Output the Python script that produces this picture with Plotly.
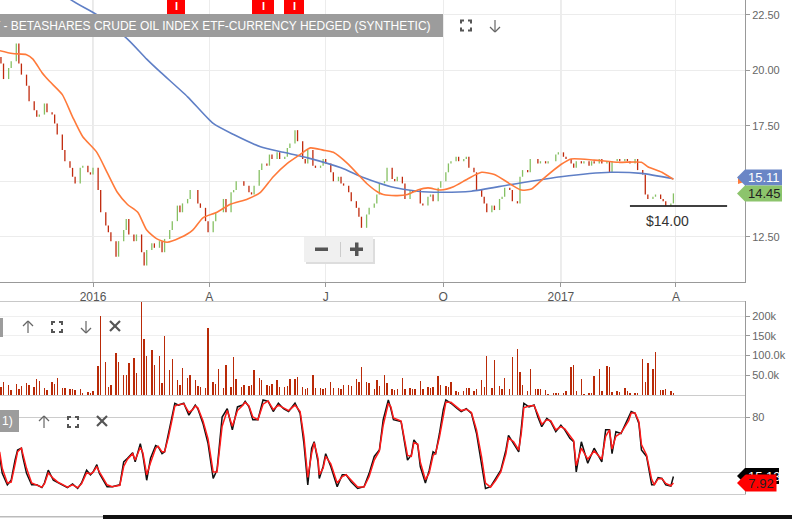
import plotly.graph_objects as go
import pandas as pd

W, H = 792, 519

# ---------------- data ----------------
# closes, one bar every second business day starting 2015-10-19
close = [
    20.6, 20.3, 19.6, 20.1, 20.4, 21.2, 20.3, 19.8, 19.3, 18.6,
    18.2, 17.9, 18.0, 18.5, 18.1, 18.0, 17.6, 17.1, 16.4, 15.9,
    15.6, 15.2, 14.9, 15.6, 15.7, 15.4, 15.3, 15.6, 14.6, 13.6,
    13.0, 12.7, 12.3, 11.6, 12.3, 12.8, 13.3, 12.6, 12.3, 12.6,
    11.8, 11.2, 11.9, 12.2, 12.0, 12.3, 11.8, 12.4, 12.8, 13.2,
    13.9, 13.6, 14.0, 14.2, 14.6, 14.6, 14.0, 13.8, 13.2, 12.7,
    13.2, 13.6, 13.6, 14.2, 13.6, 14.5, 14.6, 15.0, 15.0, 14.8,
    14.5, 14.4, 14.8, 15.5, 15.8, 15.7, 16.2, 16.0, 16.3, 16.0,
    16.1, 16.5, 16.7, 17.3, 16.8, 16.0, 15.8, 16.4, 15.7, 15.6,
    15.7, 16.0, 15.8, 15.4, 15.0, 15.2, 14.9, 14.8, 14.5, 14.1,
    13.8, 13.4, 12.9, 13.5, 13.8, 14.0, 14.4, 14.9, 15.0, 15.6,
    15.1, 15.0, 15.2, 14.9, 14.2, 14.6, 14.5, 14.6, 14.0, 13.9,
    14.3, 14.4, 14.1, 14.7, 15.0, 15.4, 15.8, 15.9, 16.1, 15.9,
    16.0, 16.1, 15.6, 15.4, 14.6, 14.3, 14.0, 13.6, 13.9, 13.7,
    14.2, 14.3, 14.7, 14.6, 14.1, 14.0, 15.2, 15.5, 15.4, 16.0,
    16.0, 15.8, 15.9, 15.8, 15.9, 15.9, 16.2, 16.3, 16.1, 16.0,
    15.8, 15.6, 15.9, 15.8, 15.9, 15.7, 15.9, 15.8, 16.0, 15.8,
    15.9, 15.4, 15.9, 16.0, 15.9, 16.0, 15.9, 15.8, 16.0, 15.5,
    15.3, 14.4, 14.2, 14.3, 14.4, 14.2, 14.1, 13.9, 14.0, 14.45,
]
first_open = 20.9

# volume in thousands, same bars
volume_k = [
    15, 20, 34, 25, 12, 28, 15, 22, 30, 25,
    20, 41, 35, 18, 12, 33, 28, 43, 18, 17,
    14, 16, 13, 15, 4, 8, 5, 10, 73, 201,
    85, 20, 25, 107, 85, 50, 51, 81, 94, 55,
    239, 141, 98, 115, 77, 98, 30, 151, 64, 91,
    38, 26, 68, 42, 51, 38, 22, 21, 17, 171,
    34, 29, 66, 17, 77, 21, 97, 40, 20, 25,
    22, 26, 64, 43, 38, 26, 22, 28, 38, 20,
    21, 23, 40, 40, 45, 20, 15, 18, 51, 17,
    18, 15, 17, 34, 17, 18, 15, 25, 26, 22,
    40, 34, 71, 34, 30, 15, 38, 22, 51, 30,
    14, 12, 14, 43, 15, 18, 14, 16, 35, 15,
    20, 19, 20, 47, 25, 22, 20, 34, 9, 8,
    9, 17, 17, 10, 15, 38, 20, 98, 17, 90,
    22, 15, 43, 14, 97, 117, 58, 25, 9, 66,
    16, 15, 14, 12, 3, 4, 4, 5, 4, 9,
    70, 76, 9, 40, 3, 6, 6, 47, 66, 9,
    73, 71, 8, 9, 8, 18, 9, 5, 5, 6,
    92, 33, 81, 67, 109, 13, 12, 16, 10, 6,
]

ma_fast_dates = [
    '2015-10-20', '2015-10-30', '2015-11-10', '2015-11-15', '2015-11-22', '2015-11-28',
    '2015-12-08', '2015-12-16', '2015-12-24', '2016-01-04', '2016-01-12', '2016-01-20',
    '2016-01-28', '2016-02-05', '2016-02-12', '2016-02-20', '2016-02-28', '2016-03-09',
    '2016-03-19', '2016-03-27', '2016-04-07', '2016-04-17', '2016-05-01', '2016-05-11',
    '2016-05-21', '2016-06-01', '2016-06-11', '2016-06-19', '2016-06-29', '2016-07-07',
    '2016-07-18', '2016-07-28', '2016-08-03', '2016-08-11', '2016-08-15', '2016-08-26',
    '2016-09-03', '2016-09-11', '2016-09-19', '2016-09-29', '2016-10-09', '2016-10-20',
    '2016-10-31', '2016-11-10', '2016-11-23', '2016-12-01', '2016-12-09', '2016-12-19',
    '2017-01-01', '2017-01-09', '2017-01-27', '2017-02-15', '2017-03-05', '2017-03-10',
    '2017-03-21', '2017-03-30',
]
ma_fast = [
    20.88, 20.75, 20.7, 20.5, 19.9, 19.5,
    18.9, 17.9, 17.0, 16.3, 15.4, 14.5,
    13.95, 13.6, 12.8, 12.4, 12.25, 12.45,
    12.8, 13.35, 13.6, 13.95, 14.2, 14.5,
    15.2, 15.8, 16.2, 16.5, 16.4, 16.3,
    15.8, 15.2, 14.85, 14.5, 14.4, 14.35,
    14.4, 14.6, 14.7, 14.6, 14.75, 15.1,
    15.4, 15.3, 14.85, 14.6, 14.65, 15.15,
    15.75, 16.0, 15.95, 15.85, 15.85, 15.65,
    15.4, 15.08,
]

ma_slow_dates = [
    '2015-12-02', '2015-12-14', '2016-01-04', '2016-01-28', '2016-02-12', '2016-02-23',
    '2016-03-15', '2016-04-04', '2016-04-20', '2016-05-11', '2016-05-29', '2016-06-17',
    '2016-07-13', '2016-07-31', '2016-08-21', '2016-09-11', '2016-09-29', '2016-10-23',
    '2016-11-23', '2017-01-01', '2017-02-09', '2017-03-05', '2017-03-30',
]
ma_slow = [
    24.0, 23.2, 22.5, 21.4, 20.5, 19.9,
    18.8, 17.6, 17.1, 16.55, 16.3, 16.05,
    15.6, 15.15, 14.75, 14.55, 14.5, 14.55,
    14.85, 15.2, 15.4, 15.35, 15.11,
]

# stochastic: days after 2016-01-01, %K (black) and %D (red)
stoch_day = [
    -73, -71, -67, -64, -61, -59, -56, -55, -52, -48, -44, -40, -38, -35, -31, -27, -24, -20,
    -16, -12, -9, -5, -2, 0, 3, 5, 11, 15, 21, 24, 27, 31, 33, 37, 39, 42, 45, 49, 51, 54,
    56, 59, 62, 64, 67, 71, 75, 78, 80, 82, 86, 90, 94, 97, 101, 105, 109, 113, 117, 119,
    122, 125, 129, 133, 137, 141, 145, 149, 153, 158, 162, 165, 168, 171, 173, 176, 177, 180,
    182, 186, 191, 195, 198, 202, 207, 212, 216, 220, 224, 227, 231, 233, 235, 241, 243, 246,
    249, 251, 254, 256, 260, 263, 266, 268, 271, 274, 276, 280, 285, 288, 292, 296, 300, 304,
    307, 311, 315, 319, 323, 325, 329, 333, 335, 337, 341, 345, 348, 351, 355, 358, 362, 366,
    369, 373, 376, 378, 382, 387, 392, 398, 401, 404, 406, 409, 413, 419, 421, 424, 427, 429,
    433, 437, 439, 442, 445, 448, 452, 454,
]
stoch_k = [
    37, 18.5, 6, 11, 33, 44, 46, 37, 18.5, 6, 6, 3, 8, 22, 11, 8, 6, 3,
    7, 2, 8, 22, 17, 20, 28, 18.5, 4, 4, 6, 31, 35, 41, 31, 51, 38.5, 11, 35, 49, 47.6, 40,
    42, 62, 82, 95, 93, 95, 82, 89, 93, 89, 73, 51, 13, 22, 80, 89, 66, 91, 93, 97,
    91, 77, 77, 98.5, 97, 86, 95, 89, 86, 95, 84, 51, 6, 46, 53, 31, 13, 26,
    40, 26, 4, 17, 17, 9, 2, 4, 18.5, 37, 44, 77, 98.5, 89, 77, 75, 58.5, 33,
    38.5, 55, 49.5, 26, 8, 22, 42, 40, 62, 88, 98.5, 95, 89, 86, 89, 84, 62, 29.5,
    2, 4, 13, 22, 44, 60, 51, 42, 67.6, 95, 91, 93, 80, 69.5, 78.5, 75, 64, 71,
    66, 56.7, 53, 20, 53, 29.5, 46, 31, 66, 66, 40, 64, 62, 80, 86, 84, 73, 44,
    37, 6, 6, 14, 13, 6, 4.7, 15.13,
]
stoch_d = [
    42, 24, 8, 9, 28, 42, 46, 40, 24, 8, 6, 3.5, 7, 19, 13, 8.5, 6.5, 3.5,
    6, 3, 7, 19, 18, 19.5, 26, 20, 6, 4, 5.5, 26, 34, 40, 33, 47, 41, 17, 30, 46, 48, 42,
    42, 58, 78, 92, 93.5, 94.5, 85, 88, 92, 90, 76, 56, 20, 20, 70, 87, 70, 87, 92.5, 96,
    92, 80, 77, 94, 97.5, 88, 93, 90, 87, 93, 86, 58, 14, 40, 52, 35, 17, 24,
    37, 29, 8, 15, 17, 11, 3.5, 3.5, 15, 33, 43, 71, 95, 91, 79, 75.5, 62, 38,
    37, 52, 50.5, 31, 11.5, 19, 38, 40.5, 58, 83, 96, 96, 90, 87, 88.5, 85, 66, 36,
    8, 3.5, 11, 20, 40, 57, 53, 44, 62, 90, 92, 92.5, 83, 72, 77, 76, 66, 69.5,
    67, 59, 54, 27, 46, 34, 43, 34, 59, 66, 45, 59, 62.5, 76, 84.5, 84.5, 75, 50,
    38.5, 12, 6, 12.5, 13, 7.5, 5, 7.92,
]

x_tick_dates = ['2016-01-01', '2016-04-01', '2016-07-01', '2016-10-01', '2017-01-01', '2017-04-01']
x_tick_text = ['2016', 'A', 'J', 'O', '2017', 'A']
price_ticks = [12.5, 15, 17.5, 20, 22.5]
price_tick_text = ['12.50', '', '17.50', '20.00', '22.50']
vol_ticks = [50000, 100000, 150000, 200000]
vol_tick_text = ['50.0k', '100.0k', '150k', '200k']
stoch_ticks = [20, 80]
stoch_tick_text = ['', '80']

title_text = 'T - BETASHARES CRUDE OIL INDEX ETF-CURRENCY HEDGED (SYNTHETIC)'
last_price_labels = [('15.11', '#6a86c6', 'white'), ('14.45', '#8cc46c', '#222')]
support_value = 13.88
support_text = '$14.00'
support_dates = ['2017-02-24', '2017-05-11']

# ---------------- derived ----------------
bar_dates = pd.bdate_range('2015-10-19', periods=2 * len(close))[::2]
opens = [first_open] + close[:-1]
highs = [max(o, c) for o, c in zip(opens, close)]
lows = [min(o, c) for o, c in zip(opens, close)]
stoch_dates = pd.Timestamp('2016-01-01') + pd.to_timedelta(stoch_day, unit='D')

FONT = 'Liberation Sans, Arial, sans-serif'
GREEN, RED = '#86c063', '#c0290c'

fig = go.Figure()
fig.add_trace(go.Ohlc(
    x=bar_dates, open=opens, high=highs, low=lows, close=close,
    increasing=dict(line=dict(color=GREEN, width=1.3)),
    decreasing=dict(line=dict(color=RED, width=1.3)),
    tickwidth=0, xaxis='x', yaxis='y', hoverinfo='skip'))
fig.add_trace(go.Scatter(x=ma_slow_dates, y=ma_slow, mode='lines', line=dict(color='#5f7fc6', width=1.6, shape='spline', smoothing=0.6),
                         xaxis='x', yaxis='y', hoverinfo='skip'))
fig.add_trace(go.Scatter(x=ma_fast_dates, y=ma_fast, mode='lines', line=dict(color='#ff7a3a', width=1.6, shape='spline', smoothing=0.6),
                         xaxis='x', yaxis='y', hoverinfo='skip'))
fig.add_trace(go.Scatter(x=support_dates, y=[support_value, support_value], mode='lines',
                         line=dict(color='black', width=1.5), xaxis='x', yaxis='y', hoverinfo='skip'))
fig.add_trace(go.Bar(x=bar_dates, y=[v * 1000 for v in volume_k], marker=dict(color='#b92a08', line=dict(width=0)),
                     width=1.1 * 86400000, xaxis='x2', yaxis='y2', hoverinfo='skip'))
fig.add_trace(go.Scatter(x=stoch_dates, y=stoch_k, mode='lines', line=dict(color='#111111', width=1.5),
                         xaxis='x3', yaxis='y3', hoverinfo='skip'))
fig.add_trace(go.Scatter(x=stoch_dates, y=stoch_d, mode='lines', line=dict(color='#ff1a1a', width=1.5),
                         xaxis='x3', yaxis='y3', hoverinfo='skip'))

XR = ['2015-10-20 06:00', '2017-05-25']
XD = [0, 745 / W]
axis_font = dict(family=FONT, size=11, color='#666')

fig.update_layout(
    width=W, height=H, margin=dict(l=0, r=0, t=0, b=0),
    paper_bgcolor='white', plot_bgcolor='white', showlegend=False, bargap=0,
    xaxis=dict(domain=XD, range=XR, type='date', tickvals=x_tick_dates, ticktext=x_tick_text,
               ticks='outside', ticklen=4, tickcolor='#999', showgrid=True, gridcolor='#ececec',
               showline=True, linecolor='#999', linewidth=1, anchor='y', rangeslider=dict(visible=False),
               tickfont=dict(family=FONT, size=12, color='#555'), zeroline=False),
    xaxis2=dict(domain=XD, matches='x', anchor='y2', showticklabels=False, showgrid=False,
                showline=True, linecolor='#cccccc', ticks='', zeroline=False),
    xaxis3=dict(domain=XD, matches='x', anchor='y3', showticklabels=False, showgrid=False,
                showline=True, linecolor='#cccccc', ticks='', zeroline=False),
    yaxis=dict(domain=[1 - 282 / H, 1], side='right', range=[10.459, 23.162], tickvals=price_ticks,
               ticktext=price_tick_text, ticks='outside', ticklen=4, tickcolor='#999', gridcolor='#ececec',
               showline=True, linecolor='#999', anchor='x', zeroline=False, tickfont=axis_font),
    yaxis2=dict(domain=[1 - 395 / H, 1 - 301 / H], side='right', range=[0, 238600], tickvals=vol_ticks,
                ticktext=vol_tick_text, ticks='outside', ticklen=4, tickcolor='#999', gridcolor='#efefef',
                showline=True, linecolor='#999', anchor='x2', zeroline=False, tickfont=axis_font),
    yaxis3=dict(domain=[1 - 494 / H, 1 - 395 / H], side='right', range=[-4, 104], tickvals=stoch_ticks,
                ticktext=stoch_tick_text, ticks='outside', ticklen=4, tickcolor='#999', gridcolor='#cccccc',
                showline=True, linecolor='#999', anchor='x3', zeroline=False, tickfont=axis_font),
)

shapes, annos = [], []


def rect(x0, y0, x1, y1, fill, layer='above'):
    shapes.append(dict(type='rect', xref='paper', yref='paper', x0=x0 / W, x1=x1 / W, y0=1 - y1 / H, y1=1 - y0 / H,
                       fillcolor=fill, line=dict(width=0), layer=layer))


def line(x0, y0, x1, y1, color, width=1, layer='above'):
    shapes.append(dict(type='line', xref='paper', yref='paper', x0=x0 / W, x1=x1 / W, y0=1 - y0 / H, y1=1 - y1 / H,
                       line=dict(color=color, width=width), layer=layer))


def poly(points, fill, closed=True):
    d = 'M ' + ' L '.join(f'{x / W:.5f},{1 - y / H:.5f}' for x, y in points) + (' Z' if closed else '')
    shapes.append(dict(type='path', xref='paper', yref='paper', path=d, fillcolor=fill, line=dict(width=0)))


def text(x, y, s, size, color, anchor='center', family=FONT, bold=False, **kw):
    annos.append(dict(xref='paper', yref='paper', x=x / W, y=1 - y / H, text=f'<b>{s}</b>' if bold else s,
                      showarrow=False, xanchor=anchor, yanchor='middle', borderpad=0,
                      font=dict(family=family, size=size, color=color), **kw))


def fullscreen(cx, cy, s=5, a=3):
    for sx in (-1, 1):
        for sy in (-1, 1):
            d = (f'M {(cx + sx * s) / W:.5f},{1 - (cy + sy * (s - a)) / H:.5f} '
                 f'L {(cx + sx * s) / W:.5f},{1 - (cy + sy * s) / H:.5f} '
                 f'L {(cx + sx * (s - a)) / W:.5f},{1 - (cy + sy * s) / H:.5f}')
            shapes.append(dict(type='path', xref='paper', yref='paper', path=d, line=dict(color='#555', width=2)))


def cross(cx, cy, s=5):
    line(cx - s, cy - s, cx + s, cy + s, '#555', 2.2)
    line(cx - s, cy + s, cx + s, cy - s, '#555', 2.2)


def arrow(cx, cy, up=True):
    ty = cy - 6 if up else cy + 6
    line(cx, cy - 6, cx, cy + 6, '#666', 1.2)
    line(cx - 5, ty + (5 if up else -5), cx, ty, '#666', 1.2)
    line(cx + 5, ty + (5 if up else -5), cx, ty, '#666', 1.2)


# year gridlines, darker
for d in ['2016-01-01', '2017-01-01']:
    shapes.append(dict(type='line', xref='x', yref='paper', x0=d, x1=d, y0=1 - 282 / H, y1=1,
                       line=dict(color='#d2d2d2', width=1), layer='below'))

# volume pane top border
line(0, 301.5, 745, 301.5, '#c8c8c8')

# title bar
rect(0, 14, 443, 37, '#9c9c9c')
text(432, 25.5, title_text, 12, 'white', anchor='right')
fullscreen(466, 25.5)
arrow(495, 26, up=False)

# red info markers
for x0, x1 in [(167, 185), (252, 274), (284, 304)]:
    rect(x0, 0, x1, 14, '#ff0000')
    text((x0 + x1) / 2, 6, 'I', 11, 'white', bold=True)

# zoom buttons
rect(306, 239, 375, 264, '#dddddd')
rect(304, 237, 373, 262, '#f0f0f0')
line(340.5, 242, 340.5, 257, '#cccccc')
rect(315, 247.5, 328, 251, '#555')
rect(350, 247.5, 363, 251, '#555')
rect(355, 242.5, 358.5, 256, '#555')

# volume pane tools
rect(0, 318, 3, 337, '#9c9c9c')
arrow(28, 327, up=True)
fullscreen(57, 327)
arrow(86, 327, up=False)
cross(115, 326)

# stochastic pane tools
rect(0, 410, 19, 432, '#9c9c9c')
text(7, 421, '1)', 12, 'white')
arrow(44, 422, up=True)
fullscreen(73, 422)
cross(102, 421)

# right side price labels
poly([(738, 176), (744, 182), (738, 184)], '#ff7a3a')
for (lab, fill, tc), cy in zip(last_price_labels, [177.5, 193.5]):
    poly([(737, cy), (745, cy - 8), (782, cy - 8), (782, cy + 8), (745, cy + 8)], fill)
    text(764, cy, lab, 13, tc)

# stochastic labels (red one drawn in front of the black one)
poly([(737, 476), (745, 468), (779, 468), (779, 484), (745, 484)], '#000000')
text(764, 476, '15.13', 13, 'white')
poly([(737, 483), (745, 475), (746, 475), (746, 491), (745, 491)], '#ff0000')
text(760.5, 483, '7.92', 13, '#222', bgcolor='#ff0000', width=30, height=16)

# support label
text(667, 221, support_text, 14, '#333')

# bottom strip
rect(0, 516, 103, 517.5, '#bbbbbb')
rect(103, 515, 792, 519, '#111111')

fig.update_layout(shapes=shapes, annotations=annos)
fig.write_html('out.html', config={'displayModeBar': False, 'staticPlot': True},
               post_script="document.body.style.margin='0px';document.body.style.padding='0px';")
